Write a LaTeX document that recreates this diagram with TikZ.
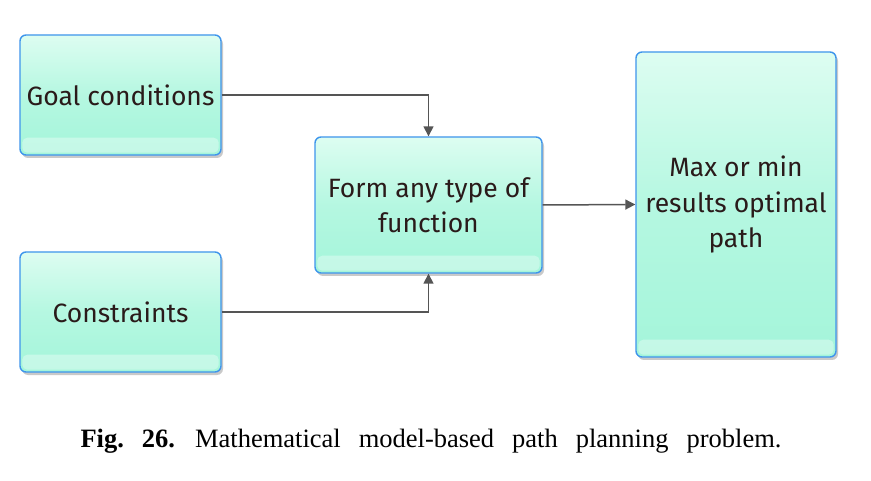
\documentclass[tikz,border=0pt]{standalone}
\usepackage{fontspec}
\setmainfont{Liberation Serif}
\newfontfamily\boxfont{Fira Sans}
\usetikzlibrary{arrows.meta,shadows,positioning}
\definecolor{mintA}{HTML}{DDFDF1}
\definecolor{mintB}{HTML}{A4F5DA}
\definecolor{boxline}{HTML}{3E95EC}
\definecolor{linkc}{HTML}{555555}
\definecolor{inkc}{HTML}{2A1A1A}
\tikzset{
  mbox/.style={draw=boxline, line width=1.4pt, rounded corners=6pt,
    top color=mintA, bottom color=mintB, middle color=mintB!70!mintA,
    drop shadow={shadow xshift=2pt, shadow yshift=-3pt, opacity=0.35, fill=black!60},
    inner sep=0pt},
  boxtext/.style={font=\boxfont\fontsize{26.5}{35.5}\selectfont, text=inkc, align=center, inner sep=0pt},
  gloss/.style={fill=white, opacity=0.35, rounded corners=5pt},
  link/.style={draw=linkc, line width=1.5pt, -{Triangle[length=10pt,width=10pt]}},
}
\newcommand{\wsp}{\hspace{18pt}}
\begin{document}
\begin{tikzpicture}[x=1pt,y=-1pt]
\useasboundingbox[fill=white] (0,0) rectangle (871,481);
\node[mbox, minimum width=201pt, minimum height=120pt] (goal) at (120.5,95) {};
\node[mbox, minimum width=201pt, minimum height=120pt] (cons) at (120.5,312) {};
\node[mbox, minimum width=227pt, minimum height=136pt] (form) at (428.5,205) {};
\node[mbox, minimum width=200pt, minimum height=305pt] (max) at (736,204.5) {};
\foreach \n in {goal,cons,form,max}{
  \fill[gloss] ([xshift=3pt,yshift=18pt]\n.south west) rectangle ([xshift=-3pt,yshift=3pt]\n.south east);
}
\node[boxtext] (goalt) at (goal) {Goal conditions};
\node[boxtext] (const) at (cons) {Constraints};
\node[boxtext] (formt) at (form) {Form any type of\\function};
\node[boxtext] (maxt) at (max) {Max or min\\results optimal\\path};
\draw[link] (goal.east) -| (form.north);
\draw[link] (cons.east) -| (form.south);
\draw[link] (form.east) -- (max.west);
\node[font=\fontsize{26.5}{30}\selectfont, align=center] (cap) at (431,441) {\textbf{Fig.\wsp26.}\hspace{20pt}Mathematical\wsp model-based\wsp path\wsp planning\wsp problem.};
\end{tikzpicture}
\end{document}
